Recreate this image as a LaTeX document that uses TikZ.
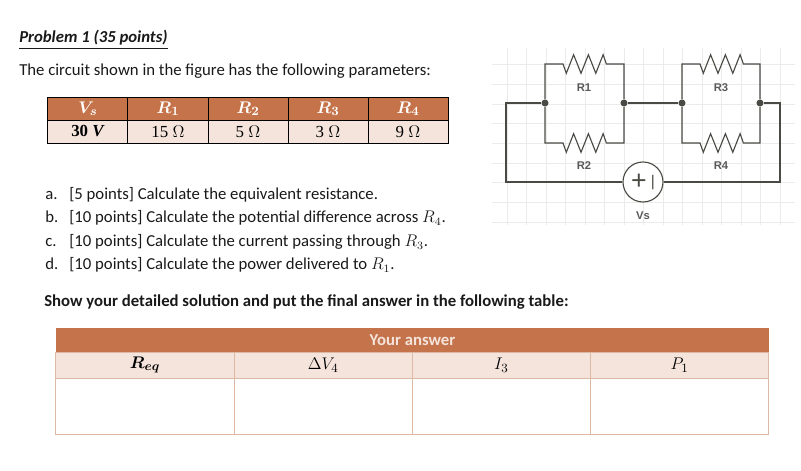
\documentclass[tikz,border=0pt]{standalone}
\usepackage{amsmath}
\usepackage{fontspec}
\setmainfont{Carlito}
\newfontfamily\tablefont{Liberation Serif}
\newfontfamily\circuitfont{Liberation Sans}
\usetikzlibrary{positioning}
\definecolor{headfill}{HTML}{C4734A}
\definecolor{rowfill}{HTML}{F4E4DC}
\definecolor{answerline}{HTML}{DDB9A3}
\definecolor{wirecolor}{HTML}{4A4A44}

\begin{document}
\begin{tikzpicture}[
        x=0.025cm, y=-0.025cm,
        every node/.style={inner sep=0pt},
        body/.style={anchor=base west, font=\fontsize{11.9pt}{14pt}\selectfont, text=black!90},
        paramhead/.style={draw=black, line width=0.7pt, fill=headfill, text=white, minimum width=2cm, minimum height=0.575cm, font=\fontsize{13pt}{15pt}\selectfont\boldmath},
        paramval/.style={draw=black, line width=0.7pt, fill=rowfill, minimum width=2cm, minimum height=0.575cm, font=\tablefont\fontsize{12pt}{14pt}\selectfont},
        answerhead/.style={fill=headfill, text=rowfill, minimum width=17.825cm, minimum height=0.6cm, font=\fontsize{11.9pt}{14pt}\selectfont\bfseries},
        answercell/.style={draw=answerline, line width=0.7pt, minimum width=4.456cm, font=\fontsize{12.5pt}{15pt}\selectfont},
        gridline/.style={draw=black!8, line width=0.5pt},
        wire/.style={draw=wirecolor, line width=0.8pt, line join=miter},
        junction/.style={circle, fill=wirecolor, minimum size=5pt},
        complabel/.style={font=\circuitfont\fontsize{8pt}{10pt}\selectfont\bfseries, text=black!65},
        zig/.style={insert path={-- ++(3.3,9.3) -- ++(7.3,-18.6) -- ++(7.4,18.6) -- ++(7.4,-18.6) -- ++(7.4,18.6) -- ++(7.3,-18.6) -- ++(3.3,9.3)}}
    ]
    \useasboundingbox (0,0) rectangle (801,471);

    % Problem statement
    \node[body] (title) at (19,43) {\underline{\textbf{\textit{Problem 1 (35 points)}}}};
    \node[body] (intro) at (19,75.5) {The circuit shown in the figure has the following parameters:};

    % Parameter table
    \foreach \x/\n/\hd/\vl in {88/s/{$V_s$}/{\textbf{30 \textit{V}}},168/a/{$R_1$}/{15 $\Omega$},248/b/{$R_2$}/{5 $\Omega$},328/c/{$R_3$}/{3 $\Omega$},408/d/{$R_4$}/{9 $\Omega$}} {
        \node[paramhead] (head\n) at (\x,108.5) {\hd};
        \node[paramval] (val\n) at (\x,131.5) {\vl};
    }

    % Questions
    \foreach \y/\n/\lab/\txt in {199.5/a/a./{[5 points] Calculate the equivalent resistance.},222.5/b/b./{[10 points] Calculate the potential difference across $R_4$.},246.5/c/c./{[10 points] Calculate the current passing through $R_3$.},269.5/d/d./{[10 points] Calculate the power delivered to $R_1$.}} {
        \node[body] (lab\n) at (45,\y) {\lab};
        \node[body] (q\n) at (69,\y) {\txt};
    }
    \node[body] (show) at (44,306.5) {\textbf{Show your detailed solution and put the final answer in the following table:}};

    % Answer table
    \node[answerhead] (answer) at (412.5,340) {Your answer};
    \node[answercell, fill=rowfill, minimum height=0.65cm, font=\fontsize{12.5pt}{15pt}\selectfont\boldmath] (cellreq) at (145,365) {$R_{eq}$};
    \node[answercell, fill=rowfill, minimum height=0.65cm] (celldv) at (323.2,365) {$\Delta V_4$};
    \node[answercell, fill=rowfill, minimum height=0.65cm] (cellcur) at (501.4,365) {$I_3$};
    \node[answercell, fill=rowfill, minimum height=0.65cm] (cellpow) at (679.6,365) {$P_1$};
    \foreach \x in {145,323.2,501.4,679.6}
        \node[answercell, minimum height=1.4cm] at (\x,406) {};

    % Background grid
    \foreach \x in {0,...,14}
        \draw[gridline] (507+19.5*\x,48) -- (507+19.5*\x,225);
    \foreach \y in {0,...,8}
        \draw[gridline] (492,64.5+19.7*\y) -- (795,64.5+19.7*\y);

    % Junctions and corners
    \node[junction] (n1) at (545,103) {};
    \node[junction] (n2) at (624,103) {};
    \node[junction] (n3) at (682,103) {};
    \node[junction] (n4) at (760,103) {};
    \coordinate (left) at (506,103);
    \coordinate (right) at (780,103);
    \coordinate (r1in) at (563,64);
    \coordinate (r2in) at (563,143);
    \coordinate (r3in) at (700,64);
    \coordinate (r4in) at (700,143);

    % Source
    \node[circle, draw=wirecolor, line width=0.8pt, fill=white, minimum size=1cm, font=\circuitfont\fontsize{19pt}{19pt}\selectfont, text=wirecolor] (vs) at (643,182) {\raisebox{-0.5pt}{+}\hspace{3pt}\raisebox{1.2pt}{\fontsize{11pt}{11pt}\selectfont |}};

    % Wires
    \draw[wire] (n1) |- (r1in) [zig] -| (n2);
    \draw[wire] (n1) |- (r2in) [zig] -| (n2);
    \draw[wire] (n3) |- (r3in) [zig] -| (n4);
    \draw[wire] (n3) |- (r4in) [zig] -| (n4);
    \draw[wire] (n2) -- (n3);
    \draw[wire] (n1) -- (left) |- (vs);
    \draw[wire] (n4) -- (right) |- (vs);

    % Component labels
    \node[complabel] (r1lab) at (584,88) {R1};
    \node[complabel] (r2lab) at (584,166) {R2};
    \node[complabel] (r3lab) at (721,88) {R3};
    \node[complabel] (r4lab) at (721,166) {R4};
    \node[complabel] (vslab) at (643,216) {Vs};

\end{tikzpicture}
\end{document}
